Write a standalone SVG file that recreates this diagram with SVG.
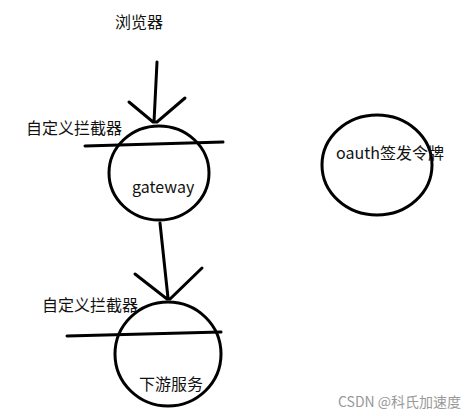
<svg xmlns="http://www.w3.org/2000/svg" width="474" height="416" viewBox="0 0 474 416">
<style>
.s{fill:none;stroke:#000;stroke-width:3;stroke-linecap:round}
.t{font-family:"Noto Sans CJK SC","Microsoft YaHei",sans-serif;font-size:16px;fill:#111}
.w{font-family:"Noto Sans CJK SC",sans-serif;font-size:14px;fill:#999}
</style>
<rect width="474" height="416" fill="#fff"/>
<g id="browser"><text class="t" x="115" y="28">浏览器</text></g>
<g id="gateway">
<ellipse class="s" cx="159" cy="173" rx="50" ry="47"/>
<line class="s" x1="85" y1="146" x2="223" y2="142"/>
<text class="t" x="26" y="134">自定义拦截器</text>
<text class="t" x="132" y="193">gateway</text>
</g>
<g id="oauth">
<ellipse class="s" cx="377" cy="165" rx="55" ry="50"/>
<text class="t" x="336" y="159">oauth签发令牌</text>
</g>
<g id="downstream">
<ellipse class="s" cx="168" cy="354" rx="53" ry="52"/>
<line class="s" x1="67" y1="336" x2="221" y2="332"/>
<text class="t" x="42" y="311">自定义拦截器</text>
<text class="t" x="139" y="390">下游服务</text>
</g>
<g id="connectors">
<path class="s" d="M157 62 L154 122 M129 102 L153 122 L157 122 L185 98"/>
<path class="s" d="M160 223 L168 298 M135 274 L167 299 L170 299 L202 268"/>
</g>
<text class="w" x="338" y="407">CSDN @科氏加速度</text>
</svg>
